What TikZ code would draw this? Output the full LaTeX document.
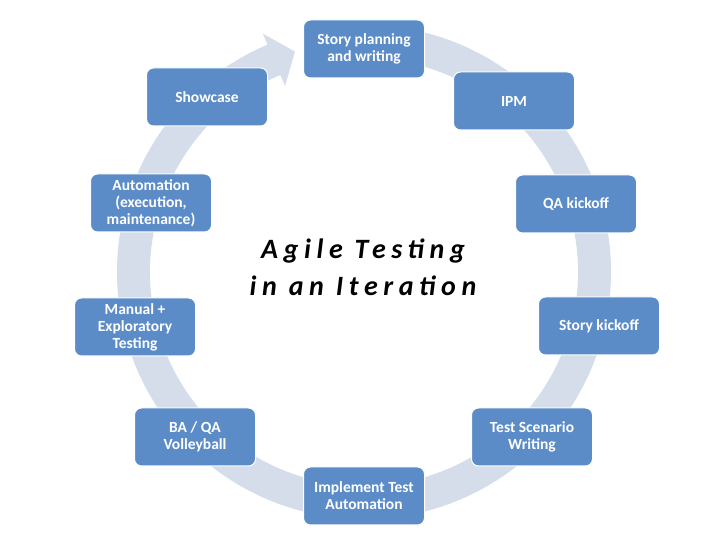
\documentclass[tikz,border=0pt]{standalone}
\usepackage{fontspec}
\setmainfont{Carlito}
\usetikzlibrary{calc}
\definecolor{boxblue}{RGB}{91,140,200}
\definecolor{ringcol}{RGB}{213,221,235}
\begin{document}
\begin{tikzpicture}[x=1pt,y=1pt,
  box/.style={draw=white, line width=1pt, fill=boxblue, rounded corners=7pt,
    minimum width=121pt, minimum height=58pt, text=white,
    font=\fontsize{15.5}{17}\selectfont\bfseries, align=center, inner sep=2pt},
  title/.style={font=\fontsize{28}{37}\selectfont\bfseries\itshape\addfontfeatures{LetterSpace=20}, align=center, text=black}]
\useasboundingbox (0,0) rectangle (728,546);
\coordinate (C) at (364,274);
% circular arrow
\fill[ringcol] ($(C)+(85:247)$) arc[start angle=85, end angle=-247, radius=247]
  -- ($(C)+(-247:259)$) -- ($(C)+(-252.6:231)$) -- ($(C)+(-247:202)$)
  -- ($(C)+(-247:214)$) arc[start angle=-247, end angle=85, radius=214] -- cycle;
% boxes
\node[box] (n1) at (364,497) {Story planning\\and writing};
\node[box] (n2) at (514,445) {IPM};
\node[box] (n3) at (576,342) {QA kickoff};
\node[box] (n4) at (599,220) {Story kickoff};
\node[box] (n5) at (532,109) {Test Scenario\\Writing};
\node[box] (n6) at (364,50) {Implement Test\\Automation};
\node[box] (n7) at (195,109) {BA / QA\\Volleyball};
\node[box] (n8) at (135,219) {Manual +\\Exploratory\\Testing};
\node[box] (n9) at (151,343) {Automation\\(execution,\\maintenance)};
\node[box] (n10) at (207,449) {Showcase};
% title
\node[title] (t) at (363,279) {Agile Testing\\in an Iteration};
\end{tikzpicture}
\end{document}
